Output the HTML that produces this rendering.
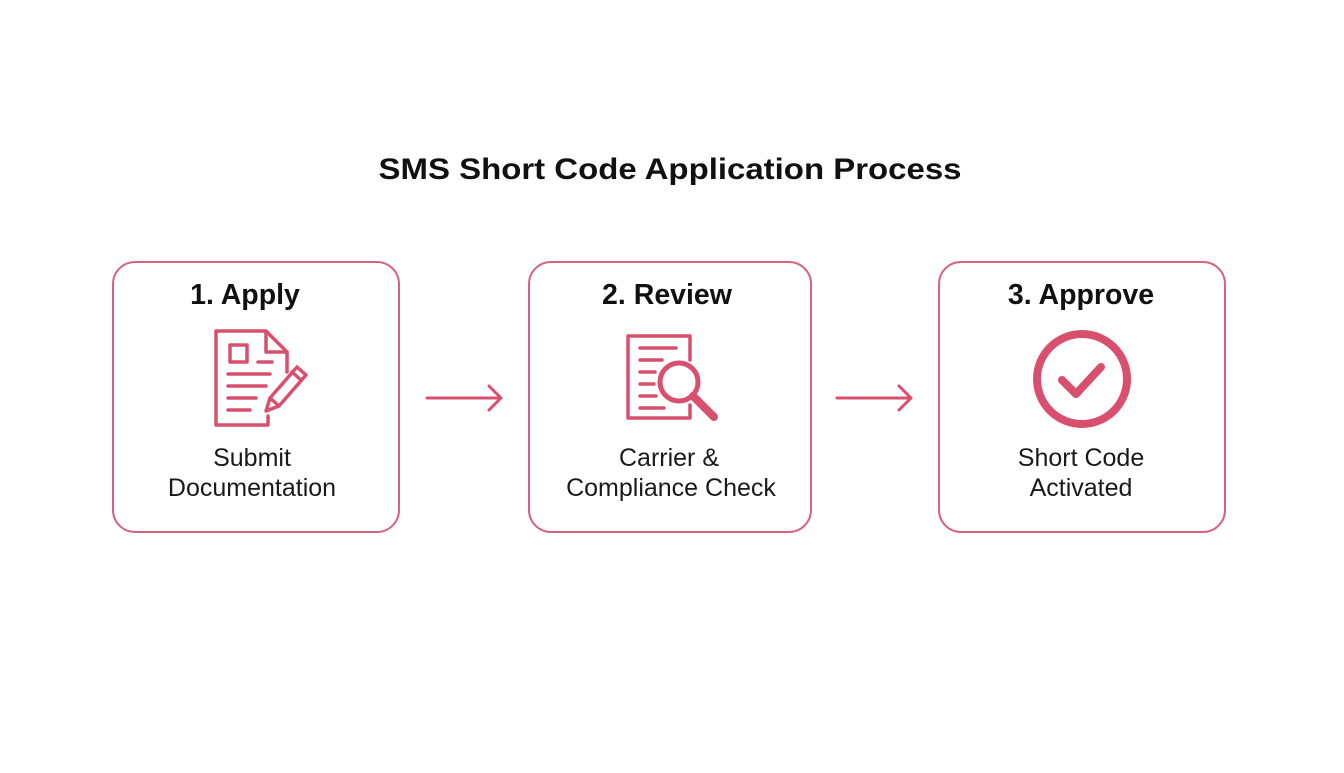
<!DOCTYPE html>
<html><head><meta charset="utf-8"><style>
html,body{margin:0;padding:0;background:#fff;}
</style></head><body>
<svg width="1344" height="768" viewBox="0 0 1344 768" xmlns="http://www.w3.org/2000/svg" font-family="Liberation Sans, Arial, sans-serif">
<rect width="1344" height="768" fill="#fff"/>
<text x="670" y="179" text-anchor="middle" font-size="30" font-weight="bold" fill="#111" textLength="583" lengthAdjust="spacingAndGlyphs">SMS Short Code Application Process</text>
<g fill="none" stroke="#d5647f" stroke-width="2">
<rect x="113" y="262" width="286" height="270" rx="22"/>
<rect x="529" y="262" width="282" height="270" rx="22"/>
<rect x="939" y="262" width="286" height="270" rx="22"/>
</g>
<g font-size="28.5" font-weight="bold" fill="#111" text-anchor="middle">
<text x="245" y="304">1. Apply</text>
<text x="667" y="304">2. Review</text>
<text x="1081" y="304">3. Approve</text>
</g>
<g font-size="25" fill="#1a1a1a" text-anchor="middle">
<text x="252" y="466">Submit</text>
<text x="252" y="496">Documentation</text>
<text x="669" y="466">Carrier &amp;</text>
<text x="671" y="496">Compliance Check</text>
<text x="1081" y="466">Short Code</text>
<text x="1081" y="496">Activated</text>
</g>
<g fill="none" stroke="#d9506f" stroke-width="3.5" stroke-linecap="round" stroke-linejoin="round">
<path d="M268 416 V425 H216 V331 H266 L287 352 V372"/>
<path d="M266 331 V352 H287"/>
<rect x="230" y="345" width="17" height="17"/>
<path d="M258 362 H272 M228 374 H270 M228 386 H266 M228 398 H256 M228 410 H250"/>
<path d="M266 411 L270 398 L297 367 L306 375 L279 406 Z M270 398 L279 406 M292 372 L301 380"/>
<path d="M690 360 V336 H628 V418 H690 V405"/>
<path d="M640 348 H676 M640 360 H662 M640 372 H655 M640 384 H654 M640 396 H656 M640 408 H664"/>
<path d="M427 398 H501 M489 386 L501 398 L489 410" stroke-width="3"/>
<path d="M837 398 H911 M899 386 L911 398 L899 410" stroke-width="3"/>
</g>
<g fill="none" stroke="#d9506f">
<circle cx="679" cy="382" r="19" stroke-width="5"/>
<path d="M693 396 L714 417" stroke-width="8" stroke-linecap="round"/>
<circle cx="1082" cy="379" r="45" stroke-width="8"/>
<path d="M1062 380 L1076 394 L1101 367" stroke-width="8" stroke-linecap="round" stroke-linejoin="round"/>
</g>
</svg>
</body></html>
